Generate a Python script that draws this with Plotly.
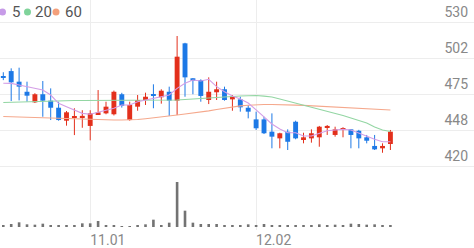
import plotly.graph_objects as go

# ---- data ----
open_ = [489.0, 492.9, 484.8, 477.1, 469.0, 475.2, 470.3, 464.9, 455.0, 457.6,
         457.7, 451.0, 459.9, 460.6, 459.9, 475.2, 455.5, 465.7, 470.8, 475.4,
         472.9, 477.1, 470.3, 514.1, 487.4, 486.1, 470.8, 476.7, 479.0, 471.3,
         471.3, 464.9, 456.0, 456.0, 446.6, 441.5, 446.6, 454.2, 441.0, 441.5,
         442.3, 449.6, 444.1, 447.9, 448.4, 447.3, 442.3, 435.7, 433.9, 437.2]
high = [492.0, 495.0, 495.5, 484.8, 476.0, 485.3, 479.7, 469.5, 462.4, 464.5,
        463.0, 463.0, 478.4, 469.5, 478.0, 476.3, 469.5, 474.6, 476.4, 482.8,
        479.0, 481.0, 519.7, 514.5, 487.5, 486.6, 488.1, 484.8, 481.0, 474.6,
        473.3, 467.0, 461.9, 458.0, 460.6, 445.8, 448.4, 455.0, 445.8, 448.4,
        451.0, 451.7, 450.4, 450.0, 448.5, 448.0, 444.1, 444.1, 437.7, 447.9]
low = [486.0, 470.0, 470.5, 469.5, 468.5, 458.0, 455.5, 455.0, 451.2, 444.0,
       449.6, 440.0, 459.8, 459.9, 459.0, 465.0, 455.0, 462.6, 467.0, 464.5,
       468.0, 458.6, 459.3, 473.3, 475.2, 469.5, 467.7, 470.8, 470.3, 462.6,
       461.9, 456.8, 447.9, 444.8, 433.9, 433.9, 432.6, 440.8, 437.7, 438.2,
       435.1, 444.1, 442.8, 442.3, 433.9, 433.9, 437.7, 432.6, 430.5, 432.6]
close = [488.0, 484.3, 481.0, 474.1, 475.2, 470.3, 464.9, 455.5, 461.4, 458.6,
         458.4, 460.6, 461.4, 465.7, 477.1, 466.4, 467.0, 470.8, 473.3, 473.9,
         477.9, 470.3, 503.9, 488.1, 485.5, 473.9, 477.1, 479.0, 470.8, 473.3,
         465.2, 461.9, 449.2, 445.4, 442.8, 445.4, 438.9, 441.5, 442.3, 445.4,
         450.4, 451.0, 448.4, 449.2, 444.1, 441.5, 439.7, 433.1, 435.7, 446.6]
volume = [6, 9, 14, 8, 7, 10, 5, 4, 4, 6,
          11, 11, 18, 6, 5, 3, 3, 4, 8, 22,
          6, 13, 135, 49, 13, 9, 9, 9, 6, 6,
          6, 8, 6, 9, 6, 5, 4, 4, 4, 6,
          8, 6, 7, 6, 10, 9, 7, 8, 6, 6]
ma5 = [483.6, 483.5, 482.3, 481.0, 479.6, 478.4, 474.6, 468.3, 465.7, 463.2,
       460.6, 459.9, 461.4, 463.2, 464.5, 467.0, 467.0, 469.5, 470.8, 472.1,
       473.3, 474.6, 479.7, 483.6, 486.1, 485.3, 486.6, 481.0, 477.1, 473.9,
       471.6, 468.5, 463.2, 457.8, 452.5, 448.6, 445.8, 445.8, 443.3, 443.3,
       445.4, 447.3, 447.9, 448.4, 447.9, 445.4, 442.8, 440.8, 438.9, 438.9]
ma20 = [468.9, 469.1, 469.3, 469.5, 469.8, 470.0, 470.1, 470.2, 470.3, 470.4,
        470.4, 470.4, 470.4, 470.4, 470.4, 470.4, 470.4, 470.4, 470.4, 470.4,
        470.4, 470.6, 470.8, 471.2, 471.5, 471.9, 472.3, 472.7, 473.1, 473.5,
        473.9, 474.1, 474.2, 473.8, 473.1, 471.6, 470.0, 468.5, 467.0, 465.5,
        463.9, 462.4, 460.9, 459.0, 457.0, 455.1, 453.2, 450.2, 447.9, 446.7]
ma60 = [458.2, 458.0, 457.7, 457.5, 457.2, 457.0, 456.8, 456.6, 456.3, 456.1,
        455.9, 455.8, 455.7, 455.6, 455.5, 455.5, 455.6, 455.9, 456.5, 457.1,
        457.8, 458.5, 459.3, 460.1, 460.8, 461.6, 462.5, 463.5, 464.5, 465.5,
        466.3, 466.8, 467.2, 467.4, 467.4, 467.4, 467.2, 466.9, 466.7, 466.4,
        466.2, 465.9, 465.6, 465.3, 465.0, 464.7, 464.3, 463.9, 463.6, 463.2]
date_tick_index = [11, 32]
date_tick_text = ["11.01", "12.02"]
price_ticks = [420, 447.5, 475, 502.5, 530]
price_tick_text = [str(round(v)) for v in price_ticks]
ma_names = ["5", "20", "60"]

# ---- styles ----
RED = "#e3301c"
BLUE = "#1d79e6"
MA_COLORS = ["#d49ee6", "#93d6a3", "#f5a88c"]
DOT_COLORS = ["#c79be8", "#7fd39a", "#f3a07c"]
GRID = "#ededed"
W, H = 474, 248
MB = 18
PLOT_H = H - MB

x = list(range(len(close)))
fig = go.Figure()

# wicks
for is_up, col in [(True, RED), (False, BLUE)]:
    wx, wy = [], []
    for i in x:
        if (close[i] >= open_[i]) == is_up:
            wx += [i, i, None]
            wy += [low[i], high[i], None]
    fig.add_trace(go.Scatter(x=wx, y=wy, mode="lines", line=dict(color=col, width=1),
                             hoverinfo="skip", showlegend=False, yaxis="y"))

# bodies
for is_up, col in [(True, RED), (False, BLUE)]:
    bx, bb, bh = [], [], []
    for i in x:
        if (close[i] >= open_[i]) == is_up:
            bx.append(i)
            bb.append(min(open_[i], close[i]))
            bh.append(max(abs(close[i] - open_[i]), 1.0))
    fig.add_trace(go.Bar(x=bx, y=bh, base=bb, width=0.62, marker=dict(color=col, line=dict(width=0)),
                         showlegend=False, yaxis="y"))

# moving averages
for vals, col in zip([ma60, ma20, ma5], [MA_COLORS[2], MA_COLORS[1], MA_COLORS[0]]):
    fig.add_trace(go.Scatter(x=x, y=vals, mode="lines", line=dict(color=col, width=1.1),
                             showlegend=False, yaxis="y"))

# volume
fig.add_trace(go.Bar(x=x, y=volume, width=0.33, marker=dict(color="#737373", line=dict(width=0)),
                     showlegend=False, xaxis="x", yaxis="y2"))

split = (PLOT_H - 170) / PLOT_H
fig.update_layout(
    width=W, height=H,
    margin=dict(l=0, r=0, t=0, b=MB),
    paper_bgcolor="white", plot_bgcolor="white",
    barmode="overlay",
    showlegend=False,
    font=dict(family="Roboto", color="#888"),
    xaxis=dict(range=[-0.418, 59.58], anchor="y2", tickvals=date_tick_index, ticktext=date_tick_text,
               showgrid=True, gridcolor=GRID, gridwidth=1, zeroline=False, showline=False, ticks="",
               ticklabelposition="outside right", tickfont=dict(size=14, color="#888")),
    yaxis=dict(domain=[split, 1], range=[417.33, 547.2], side="right", anchor="x",
               tickvals=price_ticks, ticktext=price_tick_text, ticklabelposition="inside",
               ticklabelshift=-10, ticklabelstandoff=3,
               showgrid=True, gridcolor=GRID, gridwidth=1, zeroline=False, showline=False, ticks="",
               tickfont=dict(size=14, color="#888")),
    yaxis2=dict(domain=[0, split], range=[-9, 171], anchor="x", showgrid=False, zeroline=False,
                showticklabels=False, showline=False, ticks=""),
)

# legend (dots + numbers)
dot_px = [2.5, 27.5, 56]
txt_px = [10, 33, 63]
ly = 12
for name, col, dx, tx in zip(ma_names, DOT_COLORS, dot_px, txt_px):
    fig.add_shape(type="circle", xref="paper", yref="paper", xsizemode="pixel", ysizemode="pixel",
                  xanchor=dx / W, yanchor=(PLOT_H - ly) / PLOT_H, x0=-3.5, x1=3.5, y0=-3.5, y1=3.5,
                  fillcolor=col, line=dict(width=0))
    fig.add_annotation(xref="paper", yref="paper", x=tx / W, y=(PLOT_H - ly) / PLOT_H,
                       xanchor="left", yanchor="middle", text=name, showarrow=False,
                       font=dict(size=15, color="#555", family="Roboto"))

fig.write_html("out.html")
